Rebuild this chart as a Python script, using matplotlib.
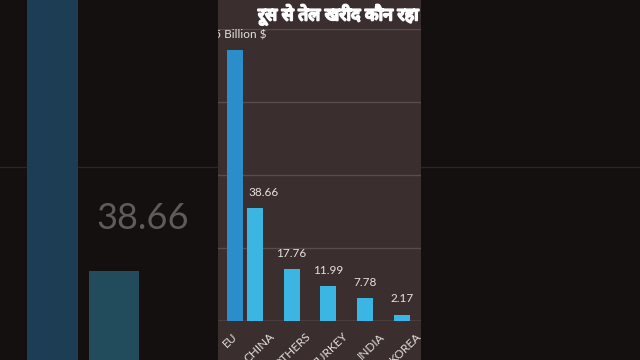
import numpy as np
import matplotlib
matplotlib.use("Agg")
import matplotlib.pyplot as plt
from matplotlib.patches import Rectangle
import matplotlib.patheffects as pe
from matplotlib.transforms import ScaledTranslation

# data (billion $)
countries = ["EU", "CHINA", "OTHERS", "TURKEY", "INDIA", "KOREA"]
values = [92.65, 38.66, 17.76, 11.99, 7.78, 2.17]
value_labels = ["92.65 Billion $", "38.66", "17.76", "11.99", "7.78", "2.17"]
title = "रूस से तेल खरीद कौन रहा है?"

# slot of each bar (EU and CHINA are squeezed together in the frame)
slots = [0.47, 1, 2, 3, 4, 5]
label_dx = [-4.5, 6.5, 0, 0, 0, 0]   # points, labels drift mid-animation
bar_colors = ["#2b8ecb"] + ["#3bb6e2"] * 5

panel_bg = "#3a2e2e"
outer_bg = "#141010"
grid_c = "#5a4c4b"
text_c = "#e6e0de"
latin = ["Lato", "DejaVu Sans"]
hindi = ["Noto Sans", "DejaVu Sans"]

fig = plt.figure(figsize=(6.4, 3.6), dpi=100, facecolor=outer_bg)


def draw_chart(ax, fs, pad, scale, show_ticks):
    ax.set_facecolor("none")
    ax.bar(slots, values, width=0.435, color=bar_colors, zorder=3)
    ax.set_yticks([25, 50, 75, 100])
    ax.grid(axis="y", color=grid_c, linewidth=1, zorder=0)
    ax.axhline(0, color="#8a7f7e", linewidth=1, zorder=2)
    for s in ax.spines.values():
        s.set_visible(False)
    ax.tick_params(left=False, labelleft=False, bottom=False)
    for x, v, lab, dx in zip(slots, values, value_labels, label_dx):
        ax.annotate(lab, (x, v), xytext=(dx * scale, pad), textcoords="offset points",
                    ha="center", va="bottom", color=text_c, fontsize=fs,
                    family=latin, clip_on=True, zorder=4)
    if show_ticks:
        # category labels stay on the regular slots
        ax.set_xticks(range(len(countries)))
        ax.set_xticklabels(countries, rotation=44, ha="right", va="top",
                           rotation_mode="anchor", color=text_c,
                           fontsize=8.5, family=latin)
        for t in ax.get_xticklabels():
            t.set_transform(t.get_transform() +
                            ScaledTranslation(14 / 100, 0, fig.dpi_scale_trans))
    else:
        ax.set_xticks([])


# blurred, enlarged copy behind (shorts style background)
bg = fig.add_axes([0, 0, 1, 1])
draw_chart(bg, 26, 26, 3.15, False)
bg.set_xlim(0.017, 5.54)
bg.set_ylim(29.0, 68.15)
fig.add_artist(Rectangle((0, 0), 1, 1, transform=fig.transFigure,
                         facecolor=outer_bg, alpha=0.64, zorder=1))

# the actual panel in the middle
panel = Rectangle((218 / 640, 0), 203 / 640, 1, transform=fig.transFigure,
                  facecolor=panel_bg, zorder=2)
fig.add_artist(panel)

ax = fig.add_axes([218 / 640, 39 / 360, 203 / 640, 292 / 360], zorder=3)
draw_chart(ax, 8.5, 7.5, 1, True)
ax.set_xlim(0.0, 5.52)
ax.set_ylim(0, 100)

t = fig.text(258 / 640, 1 - 15 / 360, title, ha="left", va="center",
             color="white", fontsize=12.7, fontweight="bold", family=hindi,
             zorder=5,
             path_effects=[pe.withStroke(linewidth=1.4, foreground="white")])
t.set_clip_path(panel)

fig.savefig("out.png", dpi=100, facecolor=outer_bg)
